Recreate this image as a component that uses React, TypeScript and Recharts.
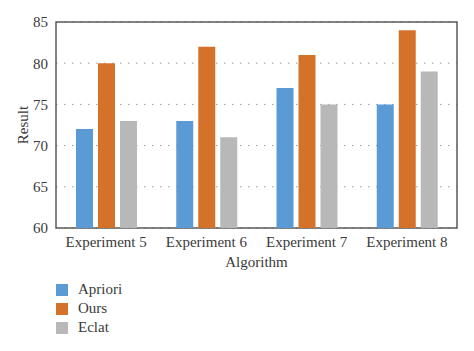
import { BarChart, Bar, XAxis, YAxis, CartesianGrid, ReferenceArea } from 'recharts';

const experiments = ['Experiment 5', 'Experiment 6', 'Experiment 7', 'Experiment 8'];
const apriori = [72, 73, 77, 75];
const ours = [80, 82, 81, 84];
const eclat = [73, 71, 75, 79];
const yTicks = [60, 65, 70, 75, 80, 85];

const series = [
  { key: 'Apriori', values: apriori, color: '#5B9BD5' },
  { key: 'Ours', values: ours, color: '#D4722A' },
  { key: 'Eclat', values: eclat, color: '#B8B8B8' },
];

const data = experiments.map((name, i) => ({
  name,
  Apriori: apriori[i],
  Ours: ours[i],
  Eclat: eclat[i],
}));

const font = '"Liberation Serif", "DejaVu Serif", serif';
const textColor = '#3a3a3a';

const LegendBox = () => (
  <div style={{ position: 'absolute', left: 56, top: 280, fontFamily: font, fontSize: 15, color: textColor }}>
    {series.map((s) => (
      <div key={s.key} style={{ display: 'flex', alignItems: 'center', height: 19 }}>
        <span style={{ width: 12, height: 12, background: s.color, display: 'inline-block', marginRight: 10 }} />
        <span>{s.key}</span>
      </div>
    ))}
  </div>
);

export default function App() {
  return (
    <div style={{ position: 'absolute', left: 0, top: 0, width: 474, height: 351, background: '#fff' }}>
      <BarChart
        width={474}
        height={351}
        data={data}
        margin={{ top: 22, right: 17, left: 0, bottom: 78 }}
        barSize={17}
        barGap={5}
      >
        <CartesianGrid vertical={false} stroke="#9a9a9a" strokeDasharray="1.5 6.5" />
        <XAxis
          dataKey="name"
          axisLine={false}
          tickLine={false}
          tickSize={0}
          tickMargin={8}
          height={45}
          tick={{ fontFamily: font, fontSize: 15, fill: textColor }}
          label={{ value: 'Algorithm', position: 'insideBottom', offset: 6, style: { fontFamily: font, fontSize: 15, fill: textColor } }}
        />
        <YAxis
          domain={[60, 85]}
          ticks={yTicks}
          width={56}
          axisLine={false}
          tickLine={false}
          tickSize={0}
          tickMargin={8}
          allowDataOverflow
          tick={{ fontFamily: font, fontSize: 15, fill: textColor }}
          label={{ value: 'Result', angle: -90, position: 'insideLeft', offset: 23, style: { fontFamily: font, fontSize: 15, fill: textColor, textAnchor: 'middle' } }}
        />
        {series.map((s) => (
          <Bar key={s.key} dataKey={s.key} fill={s.color} isAnimationActive={false} />
        ))}
        <ReferenceArea y1={60} y2={85} fill="none" stroke="#5a5a5a" strokeWidth={1.5} ifOverflow="extendDomain" />
      </BarChart>
      <LegendBox />
    </div>
  );
}
